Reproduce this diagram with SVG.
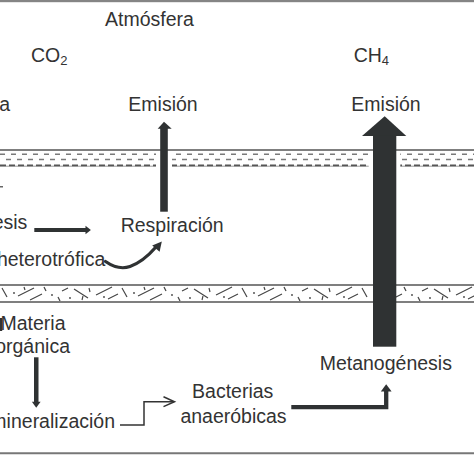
<svg xmlns="http://www.w3.org/2000/svg" width="474" height="474" viewBox="0 0 474 474">
<style>
text{font-family:"Liberation Sans",Arial,sans-serif;font-size:19.5px;fill:#333}
.sub{font-size:13px}
.band{stroke:#555;stroke-width:1.6;fill:none}
.dash{stroke:#7a7a7a;stroke-width:1.6;stroke-dasharray:5 6;fill:none}
.ink{fill:#2f3233}
.hl{stroke:#444;stroke-width:1.2;fill:none}
</style>
<defs>
<pattern id="hatch" patternUnits="userSpaceOnUse" x="0" y="285" width="120" height="17">
<g class="hl">
<line x1="2" y1="3" x2="7" y2="12"/>
<line x1="18" y1="11" x2="34" y2="3"/>
<line x1="30" y1="15" x2="42" y2="9"/>
<line x1="44" y1="2" x2="46" y2="6"/>
<line x1="62" y1="6" x2="68" y2="3"/>
<line x1="74" y1="4" x2="88" y2="13"/>
<line x1="89" y1="3" x2="90" y2="7"/>
<line x1="96" y1="10" x2="112" y2="2"/>
<line x1="108" y1="14" x2="118" y2="9"/>
<line x1="58" y1="12" x2="60" y2="16"/>
<line x1="82" y1="15" x2="83" y2="11"/>
<line x1="24" y1="2" x2="25" y2="5"/>
</g>
<circle cx="52" cy="10" r="0.9" fill="#444"/>
<circle cx="104" cy="12" r="0.9" fill="#444"/>
<circle cx="14" cy="8" r="0.9" fill="#444"/>
<circle cx="70" cy="13" r="0.9" fill="#444"/>
</pattern>
</defs>
<rect width="474" height="474" fill="#fff"/>
<!-- frame lines -->
<rect x="0" y="0" width="474" height="2.2" fill="#858585"/>
<line x1="0" y1="453.3" x2="474" y2="453.3" stroke="#777" stroke-width="2"/>
<!-- dashed layer -->
<g id="water-layer">
<line class="band" x1="0" y1="150" x2="474" y2="150"/>
<line class="dash" x1="0" y1="154.3" x2="474" y2="154.3"/>
<line class="dash" x1="0" y1="159.5" x2="474" y2="159.5" stroke-dashoffset="5"/>
<line x1="0" y1="166.2" x2="474" y2="166.2" stroke="#999" stroke-width="1"/>
<line x1="0" y1="165.3" x2="474" y2="165.3" stroke="#555" stroke-width="1.8" stroke-dasharray="6 3"/>
<rect x="156" y="151" width="16" height="16.5" fill="#fff"/>
<rect x="368.7" y="151" width="31.6" height="16.5" fill="#fff"/>
</g>
<!-- hatched layer -->
<g id="soil-layer">
<rect x="0" y="286" width="474" height="15.5" fill="url(#hatch)"/>
<line class="band" x1="0" y1="285" x2="474" y2="285"/>
<line class="band" x1="0" y1="302" x2="474" y2="302"/>
</g>
<rect x="0" y="186" width="3" height="1.5" fill="#666"/>
<rect x="0" y="318" width="2.2" height="13" fill="#333"/>
<!-- nodes -->
<g id="atmosfera"><text x="105" y="26">Atmósfera</text></g>
<g id="co2"><text x="31" y="61.7">CO<tspan class="sub" dy="3">2</tspan></text></g>
<g id="ch4"><text x="353.7" y="61.7">CH<tspan class="sub" dy="3">4</tspan></text></g>
<g id="left-a"><text x="-0.8" y="110.5">a</text></g>
<g id="emision-co2"><text x="128.3" y="110.7">Emisión</text></g>
<g id="emision-ch4"><text x="351.3" y="110.5">Emisión</text></g>
<g id="fotosintesis"><text x="27.3" y="229.3" text-anchor="end">esis</text></g>
<g id="respiracion"><text x="120.7" y="232">Respiración</text></g>
<g id="heterotrofica"><text x="105.3" y="266" text-anchor="end">heterotrófica</text></g>
<g id="materia"><text x="33" y="330" text-anchor="middle">Materia</text><text x="70" y="353.3" text-anchor="end">orgánica</text></g>
<g id="mineralizacion"><text x="115" y="428.3" text-anchor="end">mineralización</text></g>
<g id="bacterias"><text x="232.7" y="398.3" text-anchor="middle">Bacterias</text><text x="233.5" y="423.3" text-anchor="middle">anaeróbicas</text></g>
<g id="metanogenesis"><text x="385.8" y="370" text-anchor="middle">Metanogénesis</text></g>
<!-- connectors -->
<g id="connectors">
<path class="ink" d="M157.7,128.8 L164,121.7 L171.7,128.8 Z"/>
<rect class="ink" x="160.2" y="128" width="7.6" height="83.7"/>
<path class="ink" d="M362,136 L384.7,116.3 L406.3,136 Z"/>
<rect class="ink" x="373" y="135.5" width="23.3" height="211.2"/>
<rect class="ink" x="34.3" y="228" width="52" height="4"/>
<path class="ink" d="M85.5,225.8 L90.9,230 L85.5,234.2 Z"/>
<path d="M105.5,261.5 C112,266 120,270 130,266.5 C141,262.5 149,255 155.5,247.5" fill="none" stroke="#2f3233" stroke-width="3.2" stroke-linecap="round"/>
<path class="ink" d="M161.8,241.5 L152.2,245.5 L159.6,251.7 Z"/>
<rect class="ink" x="34" y="357.3" width="4.5" height="45"/>
<path class="ink" d="M31.9,401.7 L36.2,407.8 L40.6,401.7 Z"/>
<path d="M120,425 H144 V401.7 H174" fill="none" stroke="#333" stroke-width="1.5"/>
<path d="M163.5,396.8 L174.5,401.7 L163.5,406.6" fill="none" stroke="#333" stroke-width="1.5"/>
<path d="M291.3,407.2 H386.2 V390" fill="none" stroke="#2f3233" stroke-width="4.3"/>
<path class="ink" d="M380.8,391.6 L386.2,384.2 L391.6,391.6 Z"/>
</g>
</svg>
